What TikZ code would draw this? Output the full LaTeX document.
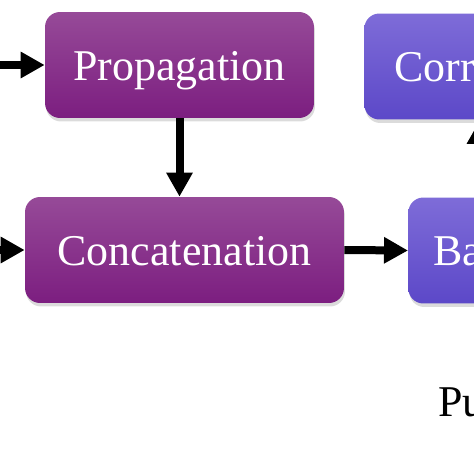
\documentclass[tikz,border=0pt]{standalone}
\usepackage{fontspec}
\setmainfont{Liberation Serif}
\usetikzlibrary{arrows.meta, positioning, shadows}
\definecolor{plumtop}{RGB}{150,74,152}
\definecolor{plumbot}{RGB}{124,30,128}
\definecolor{indigotop}{RGB}{126,108,216}
\definecolor{indigobot}{RGB}{92,72,200}
\tikzset{
  block/.style={rounded corners=0.3cm, minimum height=2.12cm, text=white, font=\fontsize{25}{30}\selectfont,
    text height=17.5pt, text depth=0pt,
    drop shadow={fill=gray!80, opacity=0.35, shadow xshift=0.02cm, shadow yshift=-0.07cm}},
  plumblock/.style={block, top color=plumtop, bottom color=plumbot},
  indigoblock/.style={block, top color=indigotop, bottom color=indigobot},
  flow/.style={-{Triangle[width=0.5cm, length=0.48cm]}, line width=0.16cm}
}

\begin{document}
\begin{tikzpicture}[x=0.02cm, y=-0.02cm]
        \useasboundingbox (0,0) rectangle (474,474);
        \clip (0,0) rectangle (474,474);

        % Blocks
        \node[plumblock, minimum width=5.38cm] (prop) at (179.5,65) {Propagation};
        \node[plumblock, minimum width=6.38cm] (concat) at (184.5,250) {Concatenation};
        \node[indigoblock, anchor=west, text width=4cm, align=left, inner xsep=0.6cm] (corr) at (364,66.5) {Corr};
        \node[indigoblock, anchor=west, text width=4cm, align=left, inner xsep=0.5cm] (ba) at (408,250.5) {Ba};
        \node[anchor=base west, inner sep=0pt, font=\fontsize{25}{30}\selectfont] (pu) at (438,416) {Pu};

        % Arrows
        \coordinate (inprop) at (-2,65);
        \coordinate (inconcat) at (-30,250);
        \coordinate (uplane) at (480,0);
        \draw[flow] (inprop) -- (prop.west);
        \draw[flow] (inconcat) -- (concat.west);
        \draw[flow] (prop.south) -- (prop.south |- concat.north);
        \draw[flow] (concat.east) -- (ba.west);
        \draw[flow] (ba.north -| uplane) -- (corr.south -| uplane);
    \end{tikzpicture}
\end{document}
